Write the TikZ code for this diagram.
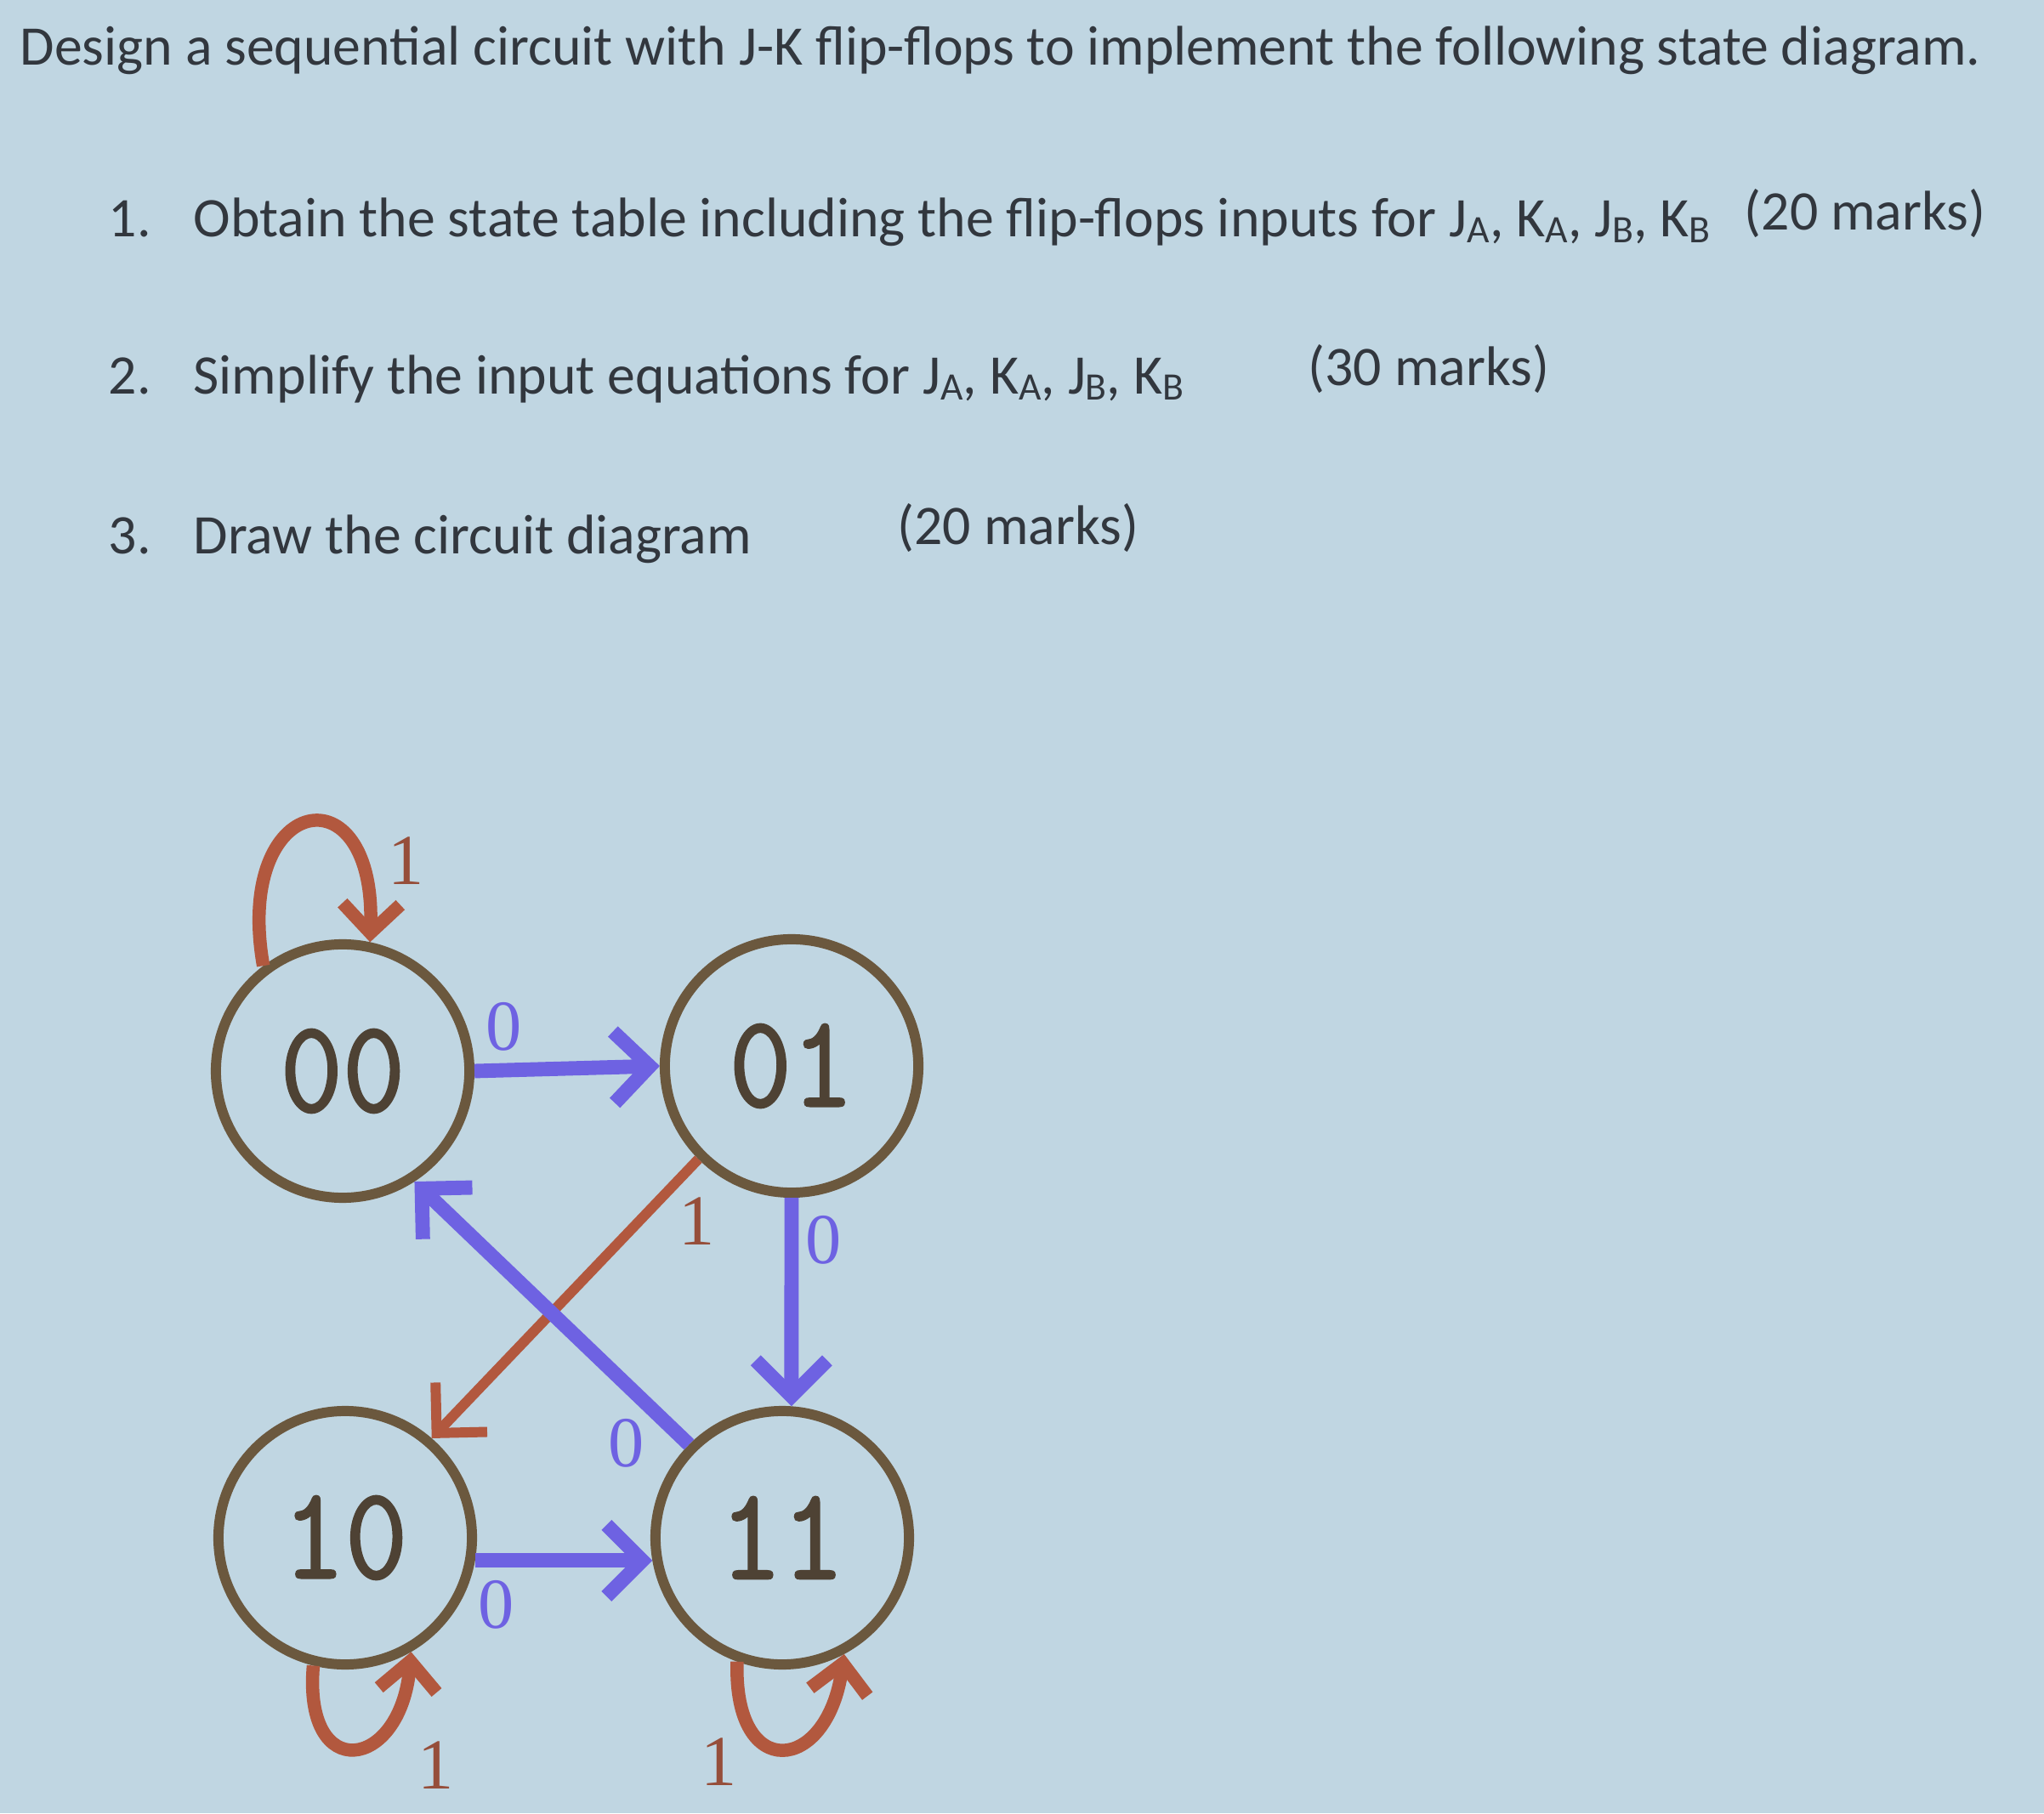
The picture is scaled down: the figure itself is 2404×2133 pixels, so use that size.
\documentclass[tikz,border=0pt]{standalone}
\usepackage{fontspec}
\setmainfont{Carlito}
\newfontfamily\statefont[FakeBold=1.6,FakeStretch=0.92]{Latin Modern Mono}
\newfontfamily\edgefont{Liberation Serif}
\usetikzlibrary{arrows.meta}

\definecolor{bgblue}{RGB}{192,214,226}
\definecolor{inktext}{RGB}{50,55,62}
\definecolor{ringbrown}{RGB}{107,88,62}
\definecolor{statetext}{RGB}{78,66,52}
\definecolor{zeroblue}{RGB}{110,98,226}
\definecolor{onered}{RGB}{178,88,62}
\definecolor{onelabel}{RGB}{150,78,58}

\newcommand{\ffsub}[1]{\raisebox{-0.2ex}{\fontsize{13}{13}\selectfont #1}}

\begin{document}
\begin{tikzpicture}[x=0.01cm,y=0.01cm,
    txt/.style={anchor=base west,inner sep=0pt,text=inktext,font=\fontsize{18.7}{23}\selectfont},
    state/.style={circle,draw=ringbrown,line width=3.4pt,minimum size=2.98cm,inner sep=0pt,
      text=statetext,font=\statefont\fontsize{44}{44}\selectfont},
    zero/.style={draw=zeroblue,line width=4.8pt,-{Straight Barb[length=4.2mm,width=8.4mm]}},
    one/.style={draw=onered,line width=3.4pt,-{Straight Barb[length=4.2mm,width=8.4mm]}},
    oneloop/.style={draw=onered,line width=4.4pt,-{Straight Barb[length=3.4mm,width=6.8mm]}},
    zlab/.style={text=zeroblue,font=\edgefont\fontsize{24}{24}\selectfont,inner sep=0pt},
    olab/.style={text=onelabel,font=\edgefont\fontsize{24}{24}\selectfont,inner sep=0pt}]

  \fill[bgblue] (0,0) rectangle (2404,2133);
  \useasboundingbox (0,0) rectangle (2404,2133);

  % question
  \node[txt] (title) at (23,2056) {Design a sequential circuit with J-K flip-flops to implement the following state diagram.};

  \node[txt] (num1) at (127,1854) {1.};
  \node[txt] (q1) at (227,1854) {Obtain the state table including the flip-flops inputs for J\ffsub{A}, K\ffsub{A}, J\ffsub{B}, K\ffsub{B}};
  \node[txt] (m1) at (2051,1862) {(20 marks)};

  \node[txt] (num2) at (127,1669) {2.};
  \node[txt] (q2) at (227,1669) {Simplify the input equations for J\ffsub{A}, K\ffsub{A}, J\ffsub{B}, K\ffsub{B}};
  \node[txt] (m2) at (1538,1679) {(30 marks)};

  \node[txt] (num3) at (127,1481) {3.};
  \node[txt] (q3) at (227,1481) {Draw the circuit diagram};
  \node[txt] (m3) at (1055,1492) {(20 marks)};

  % states
  \node[state] (s00) at (403,873) {00};
  \node[state] (s01) at (931,879) {01};
  \node[state] (s10) at (406,324) {10};
  \node[state] (s11) at (920,324) {11};

  % transitions
  \draw[oneloop] (s00.127) to[out=100,in=88,looseness=4.1] (s00.78);
  \draw[zero] (s00.east) -- (s01.west);
  \draw[zero] (s01.south) -- (s11.86);
  \draw[one] (s01.225) -- (s10.49);
  \draw[zero] (s11.135) -- (s00.-57);
  \draw[zero] (s10.-10) -- (s11.190);
  \draw[oneloop] (s10.256) to[out=265,in=265,looseness=3.1] (s10.300);
  \draw[oneloop] (s11.250) to[out=268,in=262,looseness=2.9] (s11.298);

  \node[olab] (l00) at (478,1120) {1};
  \node[zlab] (l0001) at (593,925) {0};
  \node[zlab] (l0111) at (969,674) {0};
  \node[olab] (l0110) at (820,696) {1};
  \node[zlab] (l1100) at (737,435) {0};
  \node[zlab] (l1011) at (584,245) {0};
  \node[olab] (l10) at (513,56) {1};
  \node[olab] (l11) at (846,60) {1};
\end{tikzpicture}
\end{document}
